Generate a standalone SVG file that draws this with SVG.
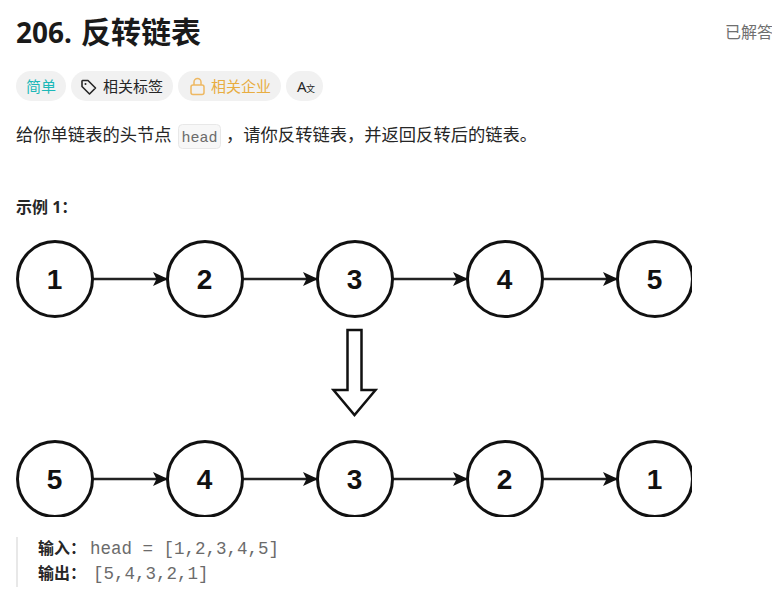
<svg xmlns="http://www.w3.org/2000/svg" width="772" height="612" viewBox="0 0 772 612">
<style>
text{font-family:"Noto Sans","Noto Sans CJK SC",sans-serif}
.pill{fill:#f1f1f1}
.t{font-size:15px;fill:#262626}
.o{font-size:15px;fill:#e8ad41}
.b{font-size:16px;font-weight:700;fill:#262626}
.m{font-family:"Liberation Mono","Noto Sans CJK SC",monospace;font-size:17.500px;fill:#6b6b6b}
.body{font-size:17.300px;fill:#262626}
.n circle{fill:#fff;stroke:#111;stroke-width:3}
.n text{font-family:"Liberation Sans",sans-serif;font-size:28px;font-weight:700;fill:#111;text-anchor:middle}
.c line{stroke:#222;stroke-width:2.500}
</style>
<defs>
<marker id="a" markerUnits="userSpaceOnUse" markerWidth="16" markerHeight="14" refX="15" refY="7" orient="auto"><path d="M0 0L15 7L0 14L3.500 7Z" fill="#111"/></marker>
<clipPath id="img"><rect x="16" y="238" width="676" height="279"/></clipPath>
</defs>
<rect width="772" height="612" fill="#fff"/>
<text x="16" y="43" font-size="28" font-weight="700" fill="#1a1a1a">206. <tspan x="81" font-size="30">反转链表</tspan></text>
<text x="725" y="38" font-size="16" fill="#6f6f6f">已解答</text>
<g id="tag-easy"><rect class="pill" x="16" y="71" width="50" height="30" rx="15"/><text x="26" y="92" font-size="15" fill="#1cb8b8">简单</text></g>
<g id="tag-topics"><rect class="pill" x="71" y="71" width="102" height="30" rx="15"/><path d="M82 81V86.500L89.500 94L95.500 88L88 80.500H82.500Z" fill="none" stroke="#262626" stroke-width="1.600" stroke-linejoin="round"/><circle cx="85.500" cy="84" r="1" fill="#262626"/><text x="103" y="92" class="t">相关标签</text></g>
<g id="tag-company"><rect class="pill" x="178" y="71" width="103" height="30" rx="15"/><rect x="191" y="85" width="13" height="9.500" rx="2" fill="none" stroke="#eeb862" stroke-width="1.500"/><path d="M194 85V82a3.500 3.500 0 0 1 7 0V85" fill="none" stroke="#eeb862" stroke-width="1.500"/><text x="211" y="92" class="o">相关企业</text></g>
<g id="tag-lang"><rect class="pill" x="286" y="71" width="37" height="30" rx="15"/><text x="297" y="92" font-size="15" fill="#262626" font-family="Liberation Sans,sans-serif">A</text><text x="306" y="92" font-size="9" fill="#262626">文</text></g>
<text x="16" y="141" class="body">给你单链表的头节点</text>
<rect x="178.500" y="124.500" width="42" height="24" rx="4" fill="#f7f7f7" stroke="#e8e8e8"/>
<text x="181.500" y="142" class="m" style="font-size:15px">head</text>
<text x="226" y="141" class="body">，请你反转链表，并返回反转后的链表。</text>
<text x="16" y="213" class="b">示例 1：</text>
<g clip-path="url(#img)">
<g id="connectors" class="c">
<line x1="93" y1="279" x2="168" y2="279" marker-end="url(#a)"/>
<line x1="243" y1="279" x2="318" y2="279" marker-end="url(#a)"/>
<line x1="393" y1="279" x2="468" y2="279" marker-end="url(#a)"/>
<line x1="543" y1="279" x2="618" y2="279" marker-end="url(#a)"/>
<line x1="93" y1="479" x2="168" y2="479" marker-end="url(#a)"/>
<line x1="243" y1="479" x2="318" y2="479" marker-end="url(#a)"/>
<line x1="393" y1="479" x2="468" y2="479" marker-end="url(#a)"/>
<line x1="543" y1="479" x2="618" y2="479" marker-end="url(#a)"/>
</g>
<g id="n1" class="n"><circle cx="55" cy="279" r="37.500"/><text x="54.500" y="289">1</text></g>
<g id="n2" class="n"><circle cx="205" cy="279" r="37.500"/><text x="204.500" y="289">2</text></g>
<g id="n3" class="n"><circle cx="355" cy="279" r="37.500"/><text x="354.500" y="289">3</text></g>
<g id="n4" class="n"><circle cx="505" cy="279" r="37.500"/><text x="504.500" y="289">4</text></g>
<g id="n5" class="n"><circle cx="655" cy="279" r="37.500"/><text x="654.500" y="289">5</text></g>
<g id="r5" class="n"><circle cx="55" cy="479" r="37.500"/><text x="54.500" y="489">5</text></g>
<g id="r4" class="n"><circle cx="205" cy="479" r="37.500"/><text x="204.500" y="489">4</text></g>
<g id="r3" class="n"><circle cx="355" cy="479" r="37.500"/><text x="354.500" y="489">3</text></g>
<g id="r2" class="n"><circle cx="505" cy="479" r="37.500"/><text x="504.500" y="489">2</text></g>
<g id="r1" class="n"><circle cx="655" cy="479" r="37.500"/><text x="654.500" y="489">1</text></g>
</g>
<path id="down-arrow" d="M347.500 330H361.500V390H375.500L354.500 415L333.500 390H347.500Z" fill="#fff" stroke="#111" stroke-width="2.500"/>
<rect x="16" y="537" width="2" height="50" fill="#e8e8e8"/>
<text x="38" y="554" class="b">输入：</text><text x="90" y="554" class="m" xml:space="preserve">head = [1,2,3,4,5]</text>
<text x="38" y="579" class="b">输出：</text><text x="93" y="579" class="m">[5,4,3,2,1]</text>
</svg>
